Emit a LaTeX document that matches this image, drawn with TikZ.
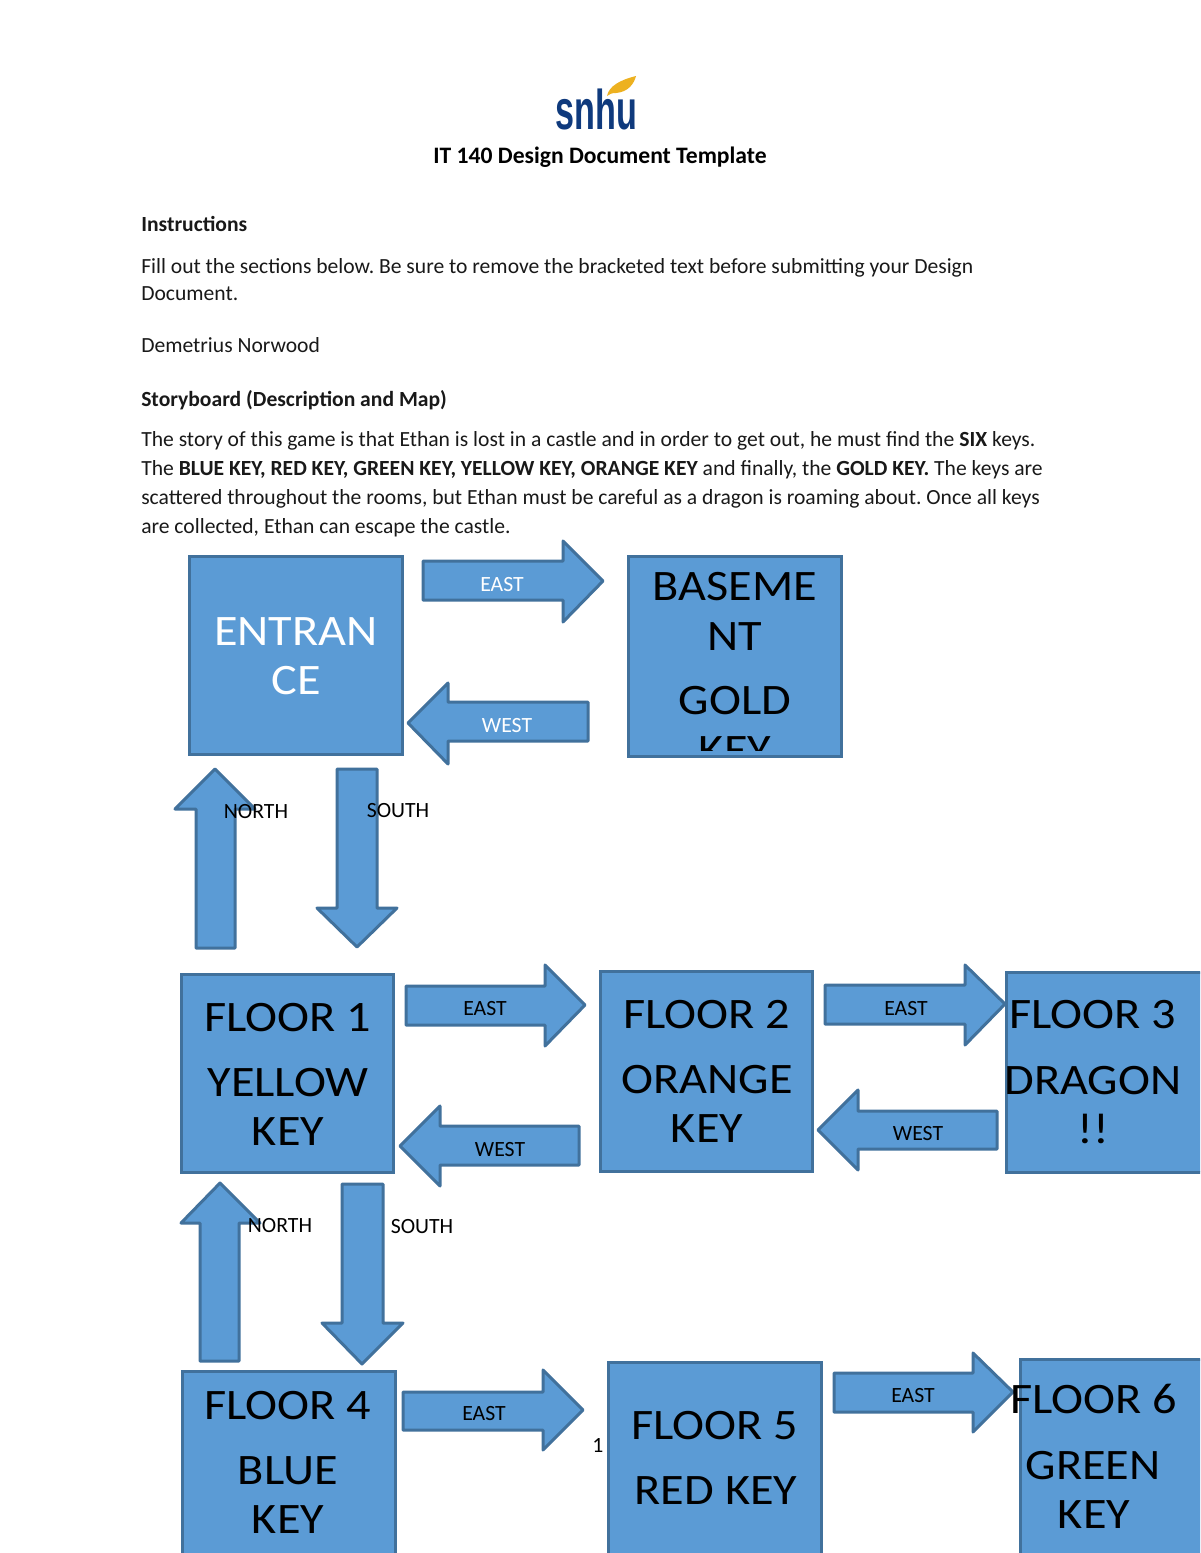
\documentclass[tikz,border=0pt]{standalone}
\usepackage{fontspec}
\setmainfont{Carlito}
\newfontfamily\wideface[FakeStretch=1.11]{Carlito}
\definecolor{roomfill}{HTML}{5B9BD5}
\definecolor{roomline}{HTML}{41719C}
\definecolor{snhublue}{HTML}{0F3A7D}
\definecolor{snhugold}{HTML}{EDB120}
\tikzset{
 roombox/.style={draw=roomline,fill=roomfill,line width=2.25pt,anchor=north west,inner sep=0pt,outer sep=0pt},
 blockarrow/.style={draw=roomline,fill=roomfill,line width=2.25pt,line join=round},
 bodytext/.style={anchor=base west,inner sep=0pt,font=\fontsize{16.2}{18}\selectfont\frenchspacing,text=black!90},
 boldtext/.style={bodytext,font=\fontsize{16.2}{18}\selectfont\bfseries\frenchspacing},
 bigtext/.style={anchor=base,inner sep=0pt,font=\wideface\fontsize{32.6}{33}\selectfont,text=black},
 smalllabel/.style={anchor=base,inner sep=0pt,font=\fontsize{16.3}{18}\selectfont,text=black},
 whitelabel/.style={smalllabel,text=white},
}
\begin{document}
\begin{tikzpicture}[x=0.75pt,y=-0.75pt]
\path[use as bounding box] (0,0) rectangle (1200,1553);
\clip (0,0) rectangle (1200,1553);
\fill[white] (0,0) rectangle (1200,1553);
% logo
\node[anchor=base,inner sep=0pt,text=snhublue] (logo) at (596.5,129) {\scalebox{0.61}[1]{\fontspec{Liberation Sans}\bfseries\fontsize{42}{42}\selectfont snhu}};
\fill[snhugold] (607,96) .. controls (609,86) and (620,80) .. (636,76) .. controls (634,84) and (628,92) .. (616,93) .. controls (612,93) and (609,94) .. (607,96) -- cycle;
% text
\node[anchor=base,inner sep=0pt,font=\fontsize{17.7}{18}\selectfont\bfseries] (title) at (600,163.5) {IT 140 Design Document Template};
\node[boldtext] (instr) at (141,231) {Instructions};
\node[bodytext] (l1) at (141,273) {Fill out the sections below. Be sure to remove the bracketed text before submitting your Design};
\node[bodytext] (l2) at (141,300) {Document.};
\node[bodytext] (l3) at (141,352) {Demetrius Norwood};
\node[boldtext] (sb) at (141,406) {Storyboard (Description and Map)};
\node[bodytext] (p1) at (141,446) {The story of this game is that Ethan is lost in a castle and in order to get out, he must find the \textbf{SIX} keys.};
\node[bodytext] (p2) at (141,475) {The \textbf{BLUE KEY, RED KEY, GREEN KEY, YELLOW KEY, ORANGE KEY} and finally, the \textbf{GOLD KEY.} The keys are};
\node[bodytext] (p3) at (141,504) {scattered throughout the rooms, but Ethan must be careful as a dragon is roaming about. Once all keys};
\node[bodytext] (p4) at (141,533) {are collected, Ethan can escape the castle.};
% rooms
\node[roombox,minimum width=160pt,minimum height=149pt] (entrance) at (189,556) {};
\node[roombox,minimum width=160pt,minimum height=150pt] (basement) at (628,556) {};
\node[roombox,minimum width=159.5pt,minimum height=149pt] (floor1) at (181,974) {};
\node[roombox,minimum width=159.5pt,minimum height=150pt] (floor2) at (600,971) {};
\node[roombox,minimum width=160.5pt,minimum height=150pt] (floor3) at (1006,972) {};
\node[roombox,minimum width=160pt,minimum height=150pt] (floor4) at (182,1371) {};
\node[roombox,minimum width=160pt,minimum height=150pt] (floor5) at (608,1362) {};
\node[roombox,minimum width=160.5pt,minimum height=150pt] (floor6) at (1020,1359) {};
% block arrows: east
\draw[blockarrow] (423,561)--(563,561)--(563,541)--(603,581)--(563,622)--(563,600)--(423,600)--cycle;
\draw[blockarrow] (406,986)--(545,986)--(545,965)--(585,1005)--(545,1046)--(545,1025)--(406,1025)--cycle;
\draw[blockarrow] (825,985)--(965,985)--(965,965)--(1005,1004)--(965,1045)--(965,1024)--(825,1024)--cycle;
\draw[blockarrow] (403,1392)--(543,1392)--(543,1370)--(583,1410)--(543,1450)--(543,1430)--(403,1430)--cycle;
\draw[blockarrow] (834,1373)--(973,1373)--(973,1353)--(1013,1392)--(973,1432)--(973,1412)--(834,1412)--cycle;
% west
\draw[blockarrow] (588,702)--(448,702)--(448,683)--(408,723)--(448,764)--(448,741)--(588,741)--cycle;
\draw[blockarrow] (579,1126)--(440,1126)--(440,1106)--(400,1146)--(440,1186)--(440,1165)--(579,1165)--cycle;
\draw[blockarrow] (997,1111)--(858,1111)--(858,1090)--(818,1130)--(858,1170)--(858,1149)--(997,1149)--cycle;
% north
\draw[blockarrow] (196,948)--(196,809)--(175,809)--(215,769)--(255,809)--(235,809)--(235,948)--cycle;
\draw[blockarrow] (200,1361)--(200,1223)--(181,1223)--(220,1183)--(260,1223)--(239,1223)--(239,1361)--cycle;
% south
\draw[blockarrow] (337,769)--(377,769)--(377,908)--(397,908)--(357,947)--(317,908)--(337,908)--cycle;
\draw[blockarrow] (342,1184)--(383,1184)--(383,1323)--(403,1323)--(362,1364)--(322,1323)--(342,1323)--cycle;
% room text
\node[bigtext,text=white] (t1) at (296,645) {ENTRAN};
\node[bigtext,text=white] (t2) at (296,694) {CE};
\node[bigtext] (t3) at (735,600) {BASEME};
\node[bigtext] (t4) at (735,650) {NT};
\node[bigtext] (t5) at (735,714.5) {GOLD};
\begin{scope}
\clip (630,700) rectangle (840,750);
\node[bigtext] (t6) at (735,764) {KEY};
\end{scope}
\node[bigtext] (t7) at (288,1031) {FLOOR 1};
\node[bigtext] (t8) at (288,1096) {YELLOW};
\node[bigtext] (t9) at (288,1145) {KEY};
\node[bigtext] (t10) at (707,1028) {FLOOR 2};
\node[bigtext] (t11) at (707,1093) {ORANGE};
\node[bigtext] (t12) at (707,1142) {KEY};
\node[bigtext] (t13) at (1093,1028) {FLOOR 3};
\node[bigtext] (t14) at (1093,1094) {DRAGON};
\node[bigtext] (t15) at (1093,1143) {!!};
\node[bigtext] (t16) at (288,1419) {FLOOR 4};
\node[bigtext] (t17) at (288,1484) {BLUE};
\node[bigtext] (t18) at (288,1533) {KEY};
\node[bigtext] (t19) at (715,1439) {FLOOR 5};
\node[bigtext] (t20) at (716,1504) {RED KEY};
\node[bigtext] (t21) at (1094,1413) {FLOOR 6};
\node[bigtext] (t22) at (1093,1479) {GREEN};
\node[bigtext] (t23) at (1094,1528) {KEY};
% arrow labels
\node[whitelabel] (e1) at (502,591) {EAST};
\node[whitelabel] (w1) at (507,732) {WEST};
\node[smalllabel] (n1) at (256,818) {NORTH};
\node[smalllabel] (s1) at (398,817) {SOUTH};
\node[smalllabel] (e2) at (485,1015) {EAST};
\node[smalllabel] (e3) at (906,1015) {EAST};
\node[smalllabel] (w2) at (500,1156) {WEST};
\node[smalllabel] (w3) at (918,1140) {WEST};
\node[smalllabel] (n2) at (280,1232) {NORTH};
\node[smalllabel] (s2) at (422,1233) {SOUTH};
\node[smalllabel] (e4) at (484,1420) {EAST};
\node[smalllabel] (e5) at (913,1402) {EAST};
\node[smalllabel] (pg) at (598,1452) {1};
\end{tikzpicture}
\end{document}
